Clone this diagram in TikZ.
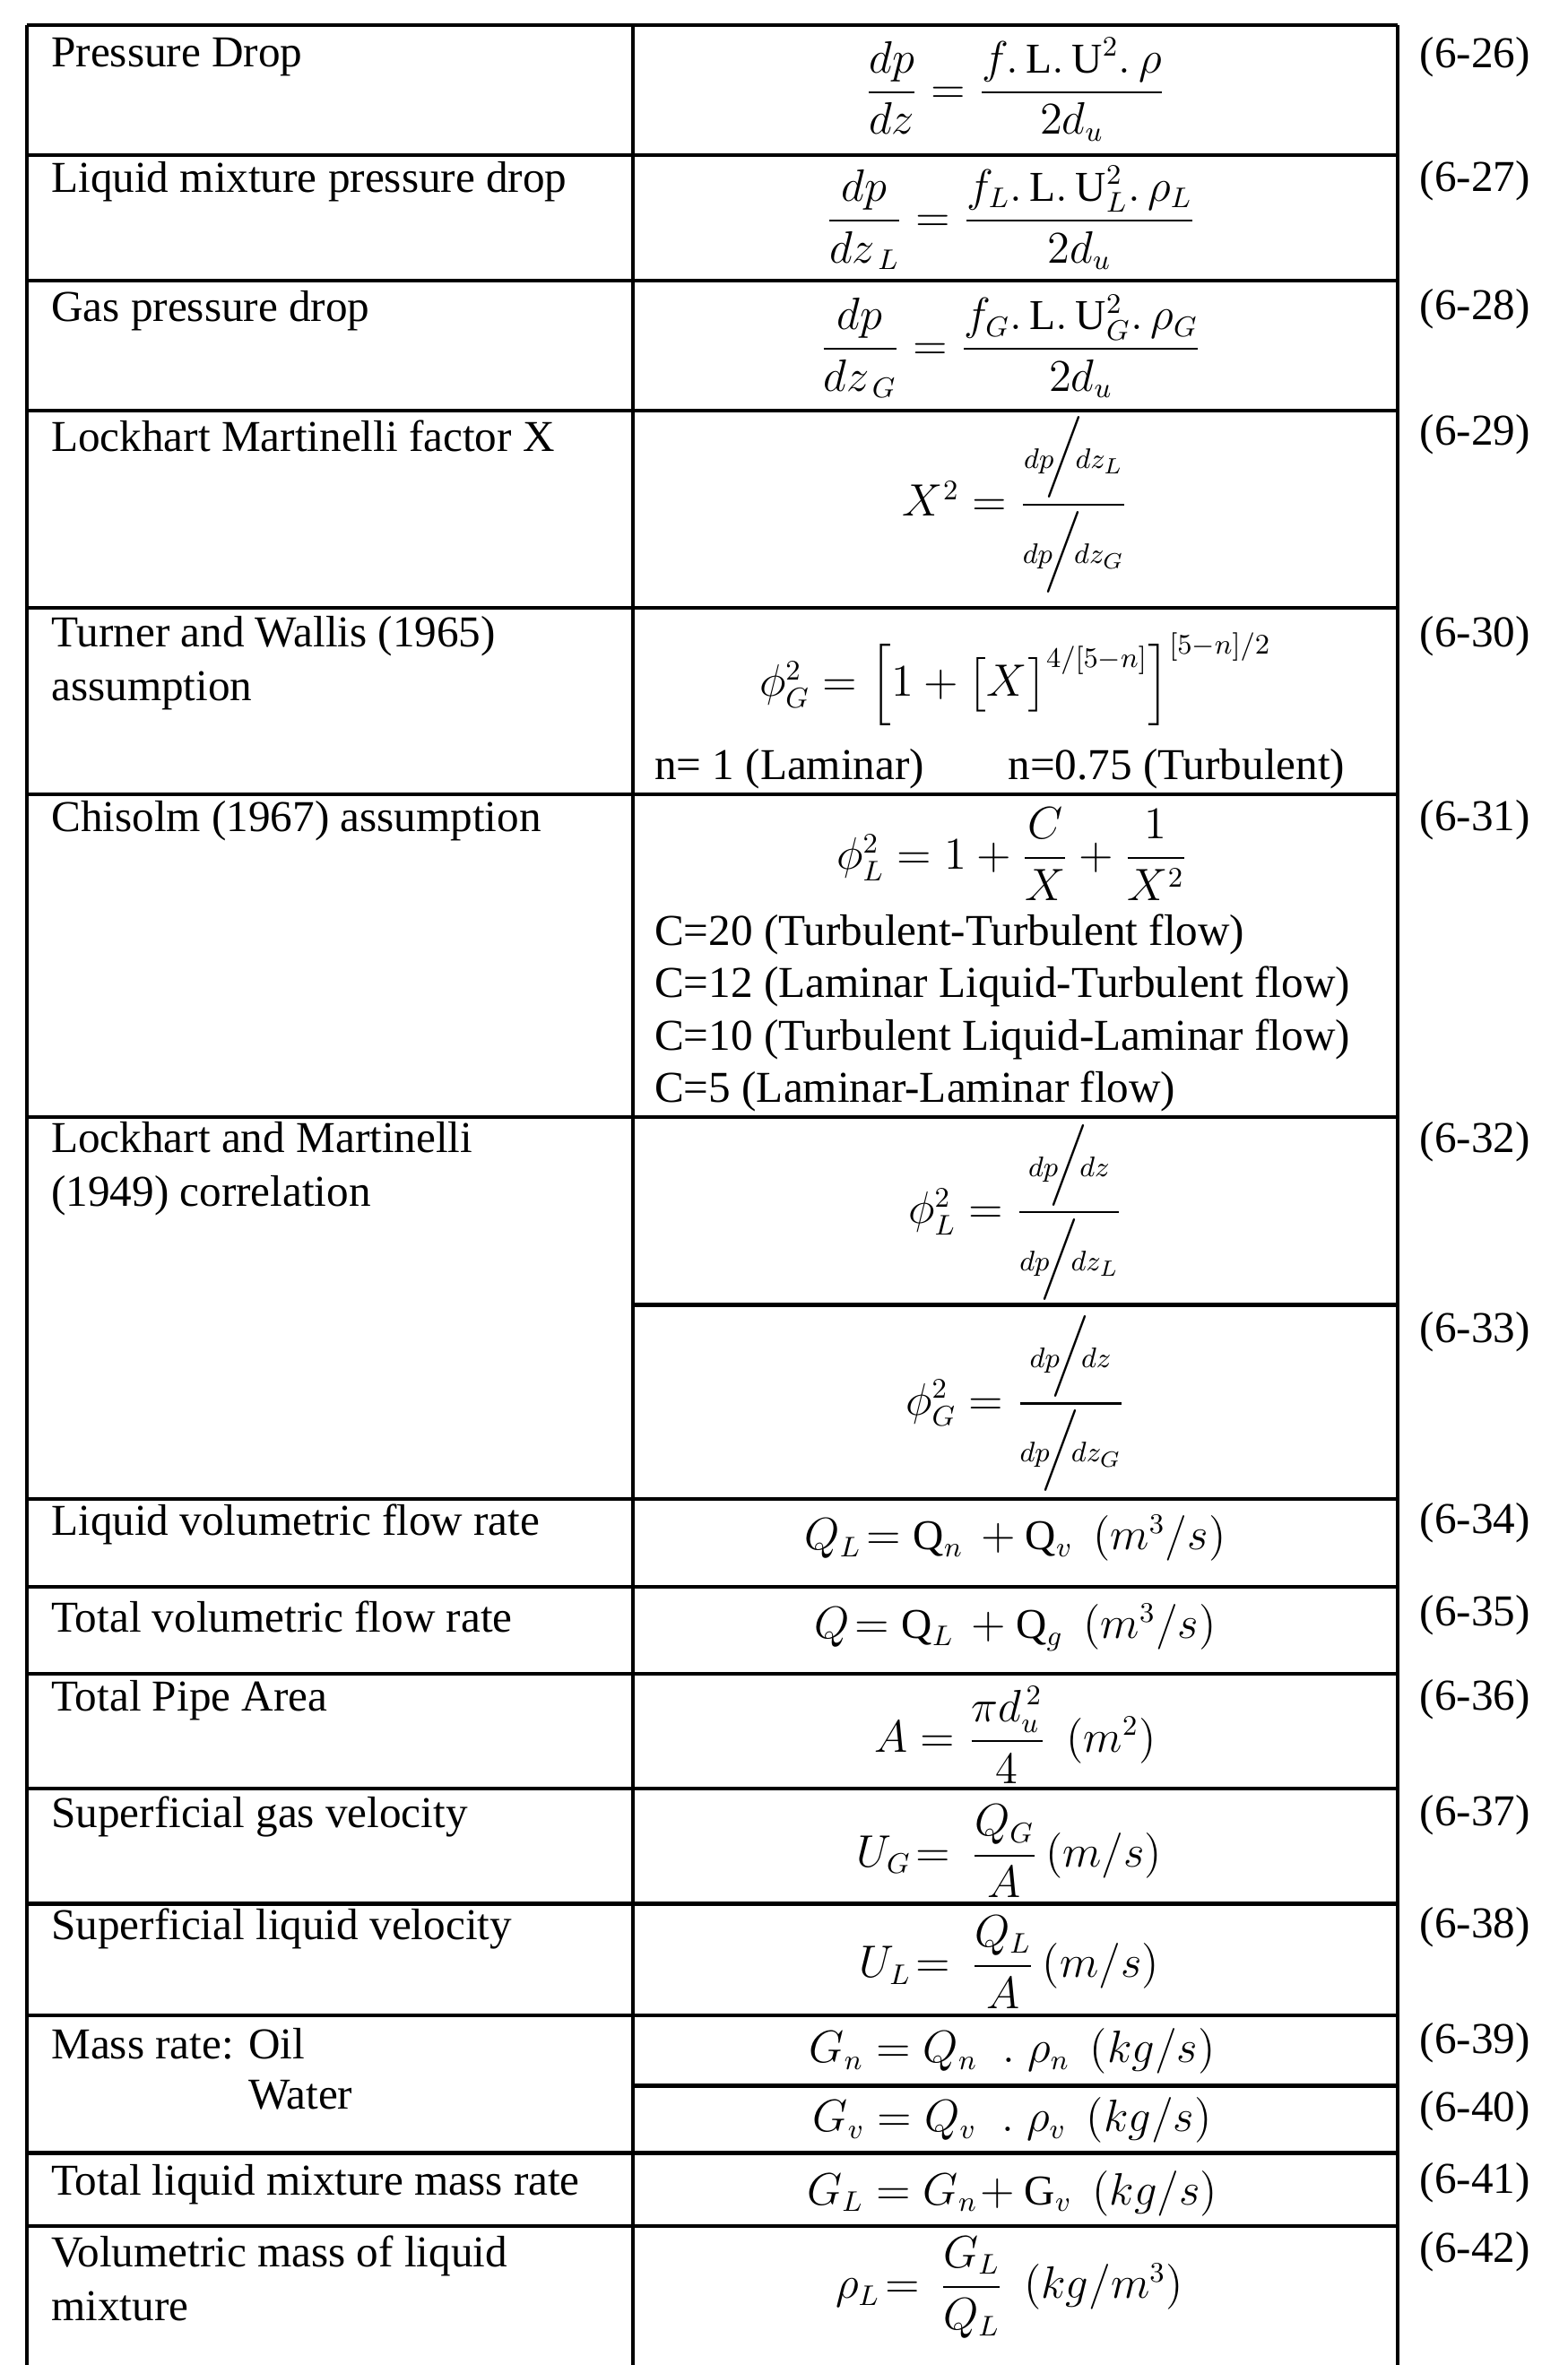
\documentclass[tikz,border=0pt]{standalone}
\usepackage{fontspec}
\setmainfont{Liberation Serif}
\usepackage{amsmath}
\newcommand{\sfr}[2]{{\scriptstyle #1}\!\Big/\!{\scriptstyle #2}}
\begin{document}
\begin{tikzpicture}[x=0.01666cm,y=-0.01666cm,
 lbl/.style={anchor=west,font=\fontsize{14}{17}\selectfont,align=left,inner sep=0pt},
 eqn/.style={font=\fontsize{13.5}{17}\selectfont,inner sep=0pt},
 num/.style={anchor=center,font=\fontsize{14}{17}\selectfont,inner sep=0pt},
 grid/.style={line width=1.2pt}]
\useasboundingbox (0,0) rectangle (1050,1584);
% grid
\draw[grid] (18,17) -- (936,17);
\foreach \y in {104,188,275,407,532,748,1004,1063,1121,1198,1275,1350,1442,1491} \draw[grid] (18,\y) -- (936,\y);
\draw[grid] (424,874) -- (936,874);
\draw[grid] (424,1397) -- (936,1397);
\draw[grid] (18,17) -- (18,1584);
\draw[grid] (424,17) -- (424,1584);
\draw[grid] (936,17) -- (936,1584);
% labels
\node[lbl] (l1) at (34,38) {Pressure Drop};
\node[lbl] (l2) at (34,122) {Liquid mixture pressure drop};
\node[lbl] (l3) at (34,208) {Gas pressure drop};
\node[lbl] (l4) at (34,292) {Lockhart Martinelli factor X};
\node[lbl] (l5) at (34,444) {Turner and Wallis (1965)\\assumption};
\node[lbl] (l6) at (34,550) {Chisolm (1967) assumption};
\node[lbl] (l7) at (34,783) {Lockhart and Martinelli\\(1949) correlation};
\node[lbl] (l8) at (34,1021) {Liquid volumetric flow rate};
\node[lbl] (l9) at (34,1083) {Total volumetric flow rate};
\node[lbl] (l10) at (34,1139) {Total Pipe Area};
\node[lbl] (l11) at (34,1217) {Superficial gas velocity};
\node[lbl] (l12) at (34,1292) {Superficial liquid velocity};
\node[lbl] (l13) at (34,1369) {Mass rate: Oil};
\node[lbl] (l13b) at (166,1403) {Water};
\node[lbl] (l14) at (34,1463) {Total liquid mixture mass rate};
\node[lbl] (l15) at (34,1526) {Volumetric mass of liquid\\mixture};
% numbers
\foreach \n/\y in {26/38,27/121,28/207,29/291,30/426,31/549,32/765,33/892,34/1020,35/1082,36/1138,37/1216,38/1291,39/1368,40/1414,41/1462,42/1508}
  \node[num] (n\n) at (988,\y) {(6-\n)};
% equations
\node[eqn] (e1) at (680,60) {$\dfrac{dp}{dz}=\dfrac{f.\,\mathrm{L}.\,\mathrm{U}^2.\,\rho}{2d_u}$};
\node[eqn] (e2) at (677,146) {$\dfrac{dp}{dz_{\,L}}=\dfrac{f_L.\,\mathrm{L}.\,\mathrm{U}_L^2.\,\rho_L}{2d_u}$};
\node[eqn] (e3) at (677,232) {$\dfrac{dp}{dz_{\,G}}=\dfrac{f_G.\,\mathrm{L}.\,\mathrm{U}_G^2.\,\rho_G}{2d_u}$};
\node[eqn] (e4) at (680,338) {$X^2=\dfrac{\sfr{dp}{dz_L}}{\sfr{dp}{dz_G}}$};
\node[eqn] (e5) at (680,455) {$\phi_G^2=\Big[1+\big[X\big]^{4/[5-n]}\Big]^{[5-n]/2}$};
\node[lbl] (e5b) at (438,515) {n= 1 (Laminar)\hspace{1.9em}n=0.75 (Turbulent)};
\node[eqn] (e6) at (678,572) {$\phi_L^2=1+\dfrac{C}{X}+\dfrac{1}{X^2}$};
\node[lbl] (e6a) at (438,626) {C=20 (Turbulent-Turbulent flow)};
\node[lbl] (e6b) at (438,661) {C=12 (Laminar Liquid-Turbulent flow)};
\node[lbl] (e6c) at (438,696) {C=10 (Turbulent Liquid-Laminar flow)};
\node[lbl] (e6d) at (438,731) {C=5 (Laminar-Laminar flow)};
\node[eqn] (e7) at (680,812) {$\phi_L^2=\dfrac{\sfr{dp}{dz}}{\sfr{dp}{dz_L}}$};
\node[eqn] (e8) at (680,940) {$\phi_G^2=\dfrac{\sfr{dp}{dz}}{\sfr{dp}{dz_G}}$};
\node[eqn] (e9) at (680,1030) {$Q_L\!=\mathrm{Q}_n\,+\mathrm{Q}_v\;\left(m^3/s\right)$};
\node[eqn] (e10) at (680,1090) {$Q\!=\mathrm{Q}_L\,+\mathrm{Q}_g\;\left(m^3/s\right)$};
\node[eqn] (e11) at (680,1162) {$A=\dfrac{\pi d_u^{\,2}}{4}\;\left(m^2\right)$};
\node[eqn] (e12) at (676,1240) {$U_G\!=\,\dfrac{Q_G}{A}\left(m/s\right)$};
\node[eqn] (e13) at (676,1314) {$U_L\!=\,\dfrac{Q_L}{A}\left(m/s\right)$};
\node[eqn] (e14) at (678,1374) {$G_n=Q_n\;\;.\;\rho_n\;\left(kg/s\right)$};
\node[eqn] (e15) at (678,1420) {$G_v=Q_v\;\;.\;\rho_v\;\left(kg/s\right)$};
\node[eqn] (e16) at (678,1469) {$G_L=G_n\!+\mathrm{G}_v\;\left(kg/s\right)$};
\node[eqn] (e17) at (676,1532) {$\rho_L\!=\,\dfrac{G_L}{Q_L}\;\left(kg/m^3\right)$};
\end{tikzpicture}
\end{document}
